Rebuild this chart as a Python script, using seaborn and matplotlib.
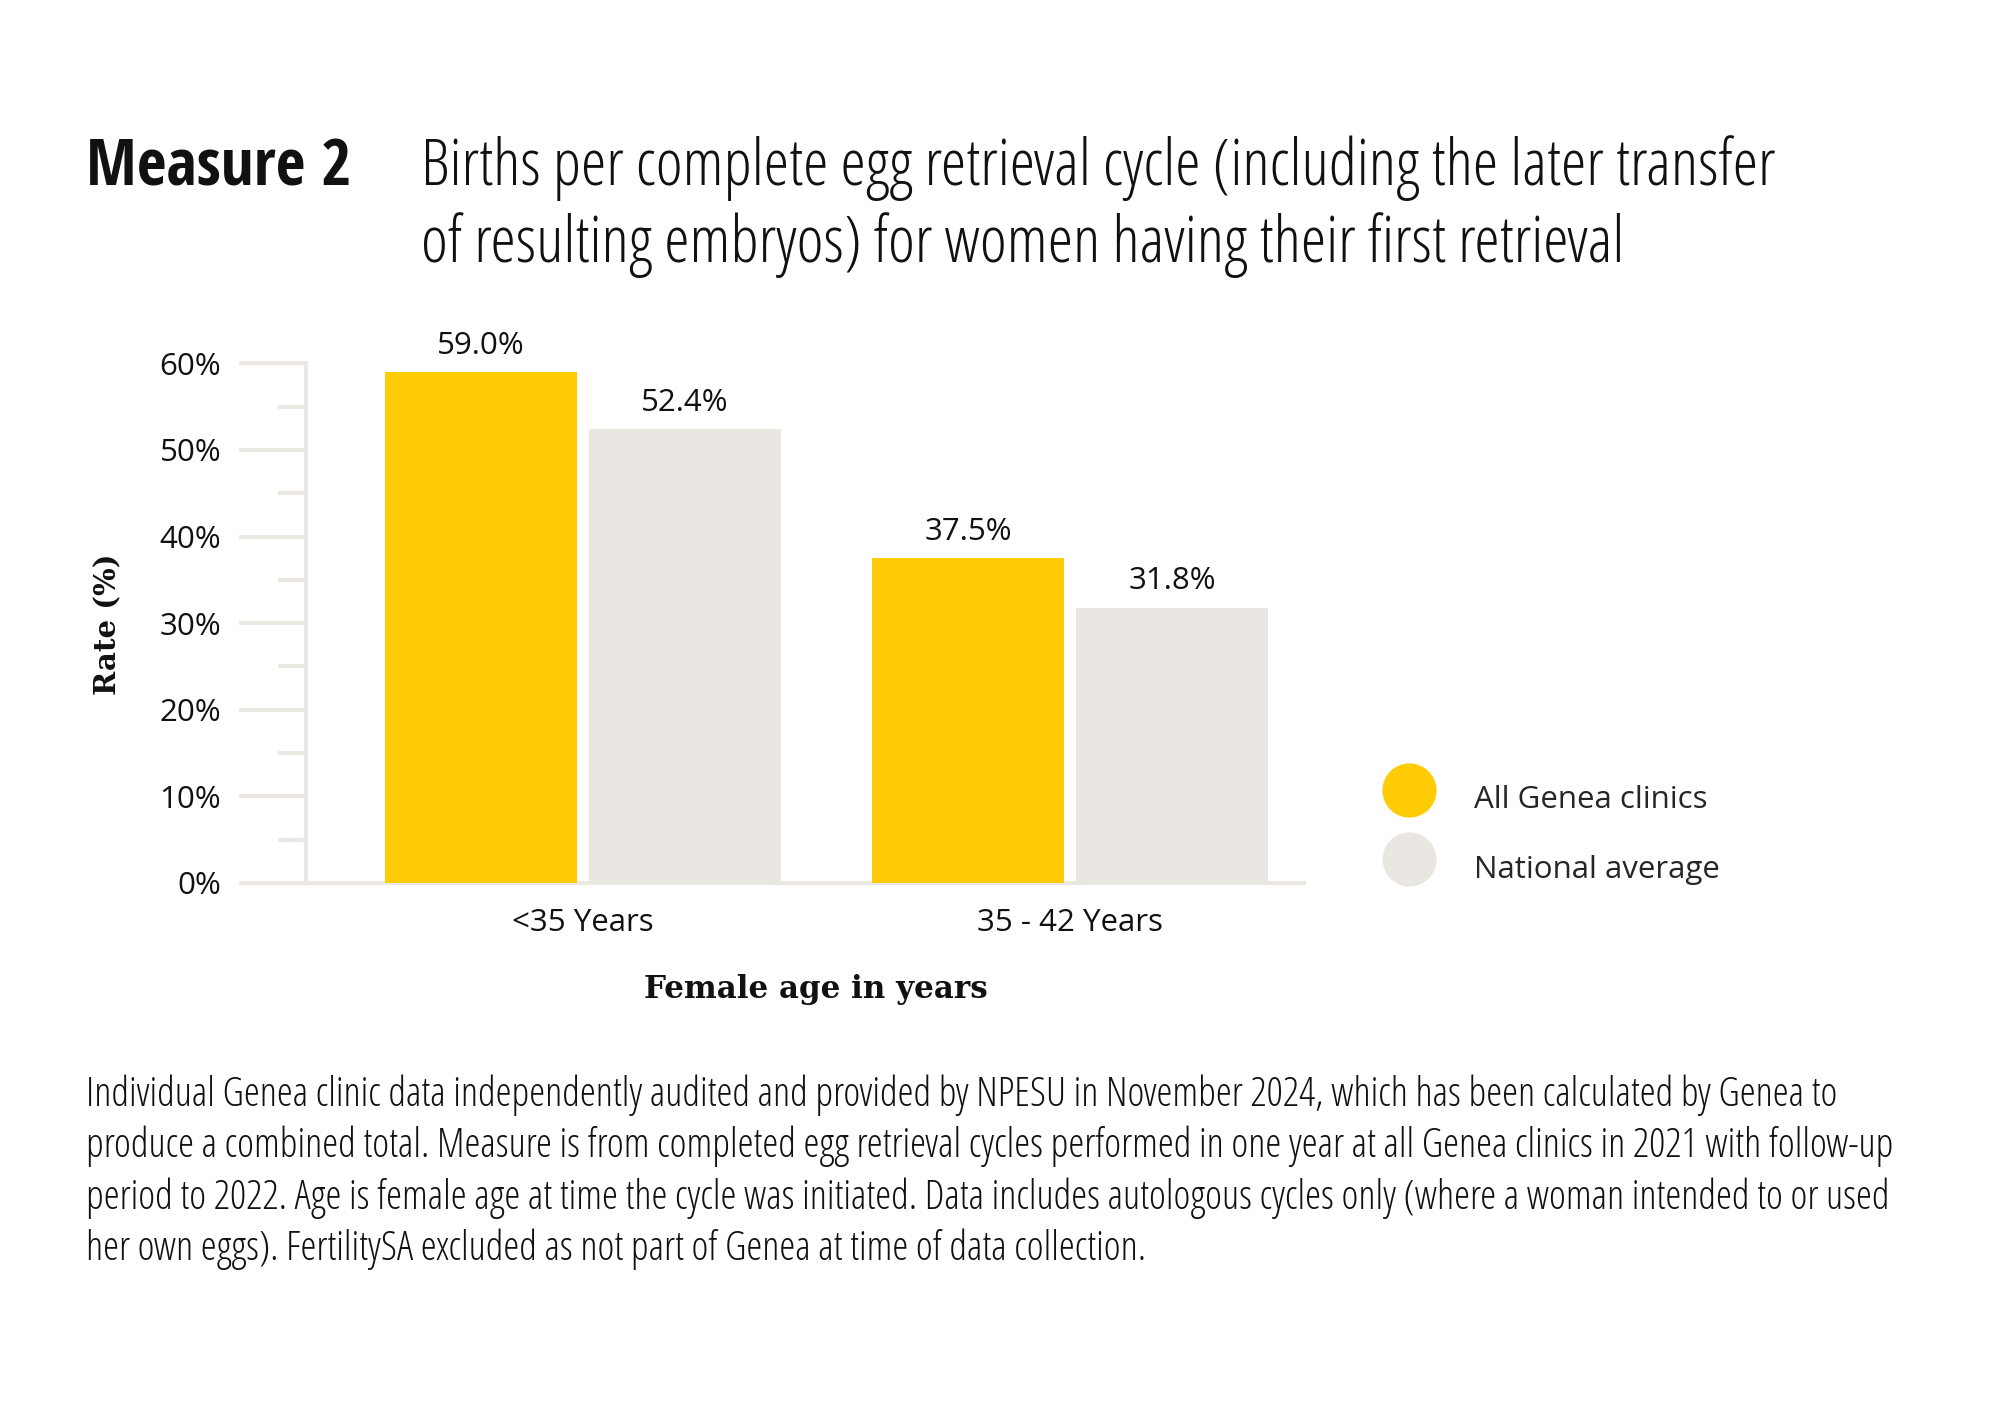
import matplotlib
matplotlib.use("Agg")
import matplotlib.pyplot as plt
import matplotlib.font_manager as fm
from matplotlib.lines import Line2D
from matplotlib.legend_handler import HandlerLine2D
from matplotlib.ticker import FixedLocator
import seaborn as sns
import pandas as pd

# ---------------- data ----------------
categories = ["<35 Years", "35 - 42 Years"]
series_names = ["All Genea clinics", "National average"]
genea_rates = [59.0, 37.5]
national_rates = [52.4, 31.8]
y_major = [0, 10, 20, 30, 40, 50, 60]
y_minor = [5, 15, 25, 35, 45, 55]
y_tick_labels = ["0%", "10%", "20%", "30%", "40%", "50%", "60%"]

title_bold = "Measure 2"
subtitle_lines = [
    "Births per complete egg retrieval cycle (including the later transfer",
    "of resulting embryos) for women having their first retrieval",
]
footnote_lines = [
    "Individual Genea clinic data independently audited and provided by NPESU in November 2024, which has been calculated by Genea to",
    "produce a combined total. Measure is from completed egg retrieval cycles performed in one year at all Genea clinics in 2021 with follow-up",
    "period to 2022. Age is female age at time the cycle was initiated. Data includes autologous cycles only (where a woman intended to or used",
    "her own eggs). FertilitySA excluded as not part of Genea at time of data collection.",
]
x_label = "Female age in years"
y_label = "Rate (%)"

YELLOW = "#FFCB05"
GREY = "#EAE7E2"
LINE = "#EBE8E3"

# ---------------- fonts ----------------
def _weight(f):
    w = f.weight
    if isinstance(w, str):
        w = fm.weight_dict.get(w, 400)
    return int(w)


def condensed_font(target_weight):
    pref = ["Open Sans", "Noto Sans", "Roboto", "DejaVu Sans", "Lato", "Inter",
            "Liberation Sans Narrow", "Liberation Sans"]
    cands = []
    for f in fm.fontManager.ttflist:
        tag = (f.name + " " + f.fname).lower()
        if f.style != "normal":
            continue
        if "mono" in tag or "serif" in f.name.lower() or "cjk" in tag:
            continue
        st = str(f.stretch)
        is_cond = ("condensed" in tag or "narrow" in tag or "condensed" in st)
        if not is_cond:
            continue
        semi = 1 if ("semi" in tag or "semi" in st) else 0
        rank = len(pref)
        for i, p in enumerate(pref):
            if f.name.startswith(p):
                rank = i
                break
        cands.append((rank, semi, abs(_weight(f) - target_weight), f.fname))
    if not cands:
        return None
    cands.sort()
    return cands[0][3]


def cond_props(weight):
    path = condensed_font(weight)
    if path:
        return fm.FontProperties(fname=path)
    return fm.FontProperties(family="Open Sans", weight=weight)


SANS = "Open Sans"
SERIF = "DejaVu Serif"

sns.set_style("white")
plt.rcParams["font.family"] = [SANS, "DejaVu Sans"]

W, H = 2000, 1414
fig = plt.figure(figsize=(W / 100, H / 100), dpi=100)
fig.patch.set_facecolor("white")


def fx(px):
    return px / W


def fy(py):
    return 1 - py / H


# ---------------- axes ----------------
ax_left, ax_right = 242, 1304
ax_bottom, ax_top = 883, 320
ax = fig.add_axes([fx(ax_left), fy(ax_bottom), (ax_right - ax_left) / W, (ax_bottom - ax_top) / H])
ax.set_facecolor("white")

df = pd.DataFrame({
    "age": categories * 2,
    "group": [series_names[0]] * len(categories) + [series_names[1]] * len(categories),
    "rate": genea_rates + national_rates,
})

sns.barplot(data=df, x="age", y="rate", hue="group", order=categories,
            hue_order=series_names, palette=[YELLOW, GREY], saturation=1,
            width=0.837, gap=0.0564, ax=ax, legend=False, edgecolor="none",
            linewidth=0, zorder=3)

label_size = 22.5
for cont in ax.containers:
    ax.bar_label(cont, fmt="%.1f%%", padding=8, fontsize=label_size,
                 family=[SANS, "DejaVu Sans"], color="#111111")

ax.set_xlim(-0.700, 1.480)
ax.set_ylim(0, 65)

for s in ["top", "right"]:
    ax.spines[s].set_visible(False)
ax.spines["left"].set_position(("data", -0.569))
ax.spines["left"].set_bounds(0, 60)
ax.spines["left"].set_color(LINE)
ax.spines["left"].set_linewidth(2.9)
ax.spines["bottom"].set_color(LINE)
ax.spines["bottom"].set_linewidth(2.9)
ax.spines["bottom"].set_zorder(2)

ax.yaxis.set_major_locator(FixedLocator(y_major))
ax.yaxis.set_minor_locator(FixedLocator(y_minor))
ax.set_yticklabels(y_tick_labels)
ax.tick_params(axis="y", which="major", left=True, direction="out", length=48, width=2.9,
               color=LINE, pad=13, labelsize=label_size, labelcolor="#111111")
ax.tick_params(axis="y", which="minor", left=True, direction="out", length=20, width=2.9,
               color=LINE)
ax.tick_params(axis="x", bottom=False, length=0, pad=18, labelsize=label_size,
               labelcolor="#111111")
ax.grid(False)

serif_props = dict(family=SERIF, weight="bold", color="#111111")
xl = ax.set_xlabel(x_label, fontsize=23, va="center", **serif_props)
ax.xaxis.set_label_coords(0.5405, -0.1900)
yl = ax.set_ylabel(y_label, fontsize=21, va="center", **serif_props)
ax.yaxis.set_label_coords(-0.126, 0.4600)


# ---------------- legend ----------------
class RaisedMarker(HandlerLine2D):
    """Legend marker drawn slightly above the text centre line."""

    def create_artists(self, legend, orig_handle, xdescent, ydescent,
                       width, height, fontsize, trans):
        arts = super().create_artists(legend, orig_handle, xdescent, ydescent,
                                      width, height, fontsize, trans)
        for a in arts:
            a.set_ydata([y + 5.5 for y in a.get_ydata()])
        return arts


fs_px = label_size * 100 / 72
handles = [Line2D([], [], marker="o", ls="", markersize=39, markerfacecolor=c,
                  markeredgecolor="none") for c in [YELLOW, GREY]]
fig.legend(handles, series_names, loc="center left",
           bbox_to_anchor=(fx(1382), fy(835)), bbox_transform=fig.transFigure,
           frameon=False, borderpad=0, borderaxespad=0,
           handlelength=54 / fs_px, handletextpad=1.2, labelspacing=1.25,
           handler_map={Line2D: RaisedMarker()},
           prop=fm.FontProperties(family=SANS, size=label_size))

# ---------------- titles & footnote ----------------
bold_fp = cond_props(700)
text_fp = cond_props(400)

t_bold = fig.text(fx(85.5), fy(185), title_bold, fontproperties=bold_fp,
                  fontsize=50, ha="left", va="baseline", color="#111111")
if bold_fp.get_file() is None:
    t_bold.set_fontweight("bold")
subs = []
for i, line in enumerate(subtitle_lines):
    subs.append(fig.text(fx(421), fy(185 + 77 * i), line, fontproperties=text_fp,
                         fontsize=46, ha="left", va="baseline", color="#111111"))
foots = []
for i, line in enumerate(footnote_lines):
    foots.append(fig.text(fx(85.5), fy(1106 + 51.4 * i), line, fontproperties=text_fp,
                          fontsize=24, ha="left", va="baseline", color="#111111"))

# fit text widths to the reference layout
renderer = fig.canvas.get_renderer()


def fit(objs, ref, target_px):
    w = ref.get_window_extent(renderer).width
    scale = target_px / w
    for o in objs:
        o.set_fontsize(o.get_fontsize() * scale)


fit([t_bold], t_bold, 265)
fit(subs, subs[0], 1356)
fit(foots, foots[1], 1811)
fit([xl], xl, 344)

fig.savefig("out.png", dpi=100, facecolor="white")
